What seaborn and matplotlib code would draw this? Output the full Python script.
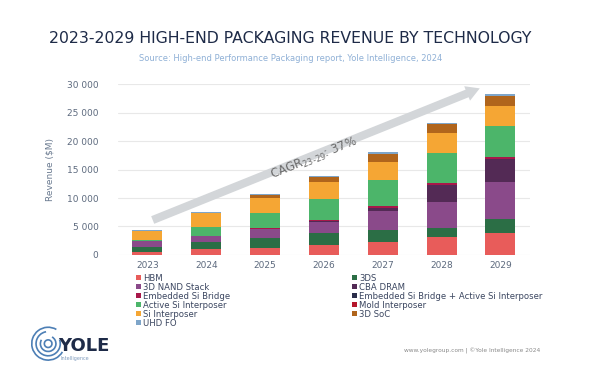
import numpy as np
import pandas as pd
import matplotlib
matplotlib.use("Agg")
import matplotlib.pyplot as plt
import seaborn as sns
from matplotlib.patches import Patch, Arc
from matplotlib.ticker import FuncFormatter

years = ["2023", "2024", "2025", "2026", "2027", "2028", "2029"]

hbm = [500, 1000, 1280, 1750, 2330, 3100, 3800]
tds = [950, 1200, 1760, 2050, 2060, 1690, 2460]
nand = [950, 1150, 1500, 2040, 3330, 4560, 6600]
cba_dram = [0, 0, 50, 100, 500, 2930, 3980]
emb_bridge = [100, 50, 100, 200, 350, 300, 410]
emb_asi = [0, 0, 0, 0, 0, 0, 0]
active_si = [50, 1500, 2600, 3630, 4560, 5370, 5430]
mold = [0, 0, 0, 0, 0, 0, 0]
si_interposer = [1600, 2400, 2800, 3090, 3200, 3400, 3510]
soc_3d = [50, 100, 400, 770, 1470, 1630, 1760]
uhd_fo = [100, 100, 200, 230, 350, 220, 300]

series_names = ["HBM", "3DS", "3D NAND Stack", "CBA DRAM", "Embedded Si Bridge",
                "Embedded Si Bridge + Active Si Interposer", "Active Si Interposer",
                "Mold Interposer", "Si Interposer", "3D SoC", "UHD FO"]
series_vals = [hbm, tds, nand, cba_dram, emb_bridge, emb_asi, active_si, mold,
               si_interposer, soc_3d, uhd_fo]
colors = ["#e85c5a", "#2b6e45", "#8a4a8a", "#532a55", "#a8184a", "#2b2d4a",
          "#4cb56a", "#b5162b", "#f5a634", "#b0651c", "#7ea5c9"]

cagr_text = "CAGR$_{23\\text{-}29}$: 37%"

sns.set_theme(style="white")
plt.rcParams["font.family"] = ["DejaVu Sans"]

fig = plt.figure(figsize=(6.02, 3.84), dpi=100)
ax = fig.add_axes([0.196, 0.336, 0.684, 0.445])

bottom = np.zeros(len(years))
for name, vals, c in zip(series_names, series_vals, colors):
    df = pd.DataFrame({"year": years, "value": vals})
    sns.barplot(data=df, x="year", y="value", color=c, width=0.51,
                bottom=bottom, ax=ax, saturation=1, linewidth=0, errorbar=None)
    bottom = bottom + np.array(vals)

ax.set_xlim(-0.5, 6.5)
ax.set_ylim(0, 30000)
ax.set_yticks(range(0, 30001, 5000))
ax.yaxis.set_major_formatter(FuncFormatter(lambda v, p: f"{int(v):,}".replace(",", " ")))
ax.grid(axis="y", color="#e8e8e8", linewidth=0.8)
ax.set_axisbelow(True)
for s in ax.spines.values():
    s.set_visible(False)
ax.tick_params(axis="both", length=0, labelsize=6.5, colors="#5d6a7e", pad=4)
ax.tick_params(axis="y", pad=14)
ax.set_xlabel("")
ax.set_ylabel("Revenue ($M)", fontsize=6.5, color="#6a7a90", labelpad=9)

# CAGR arrow
ax.annotate("", xy=(5.65, 29250), xytext=(0.09, 6140),
            arrowprops=dict(arrowstyle="simple,head_width=0.8,head_length=0.7,tail_width=0.42",
                            mutation_scale=14, color="#d3d6d9", lw=0, shrinkA=0, shrinkB=0),
            annotation_clip=False, zorder=1)
ax.text(2.84, 17000, cagr_text, rotation=22, ha="center", va="center",
        fontsize=8.5, color="#6b6b6b", rotation_mode="anchor", zorder=3)

# Titles
fig.text(0.482, 0.9, "2023-2029 HIGH-END PACKAGING REVENUE BY TECHNOLOGY",
         ha="center", va="center", fontsize=11.3, color="#1e2b48")
fig.text(0.482, 0.848, "Source: High-end Performance Packaging report, Yole Intelligence, 2024",
         ha="center", va="center", fontsize=6, color="#8fb0d6")

# Legend (row-major order in two columns)
handles = [Patch(facecolor=c, edgecolor="none") for c in colors]
col1 = [0, 2, 4, 6, 8, 10]
col2 = [1, 3, 5, 7, 9]
leg_kw = dict(frameon=False, fontsize=6.1, handlelength=0.6, handleheight=0.6,
              handletextpad=0.25, labelspacing=0.0, borderaxespad=0, borderpad=0,
              labelcolor="#3b4660")
leg1 = fig.legend([handles[i] for i in col1], [series_names[i] for i in col1],
                  loc="upper left", bbox_to_anchor=(0.226, 0.287), **leg_kw)
leg2 = fig.legend([handles[i] for i in col2], [series_names[i] for i in col2],
                  loc="upper left", bbox_to_anchor=(0.585, 0.287), **leg_kw)

# Logo
lax = fig.add_axes([0.04, 0.06, 0.08, 0.09])
lax.set_xlim(-1, 1); lax.set_ylim(-1, 1); lax.set_aspect("equal"); lax.axis("off")
for r, a1, a2 in [(0.95, 60, 330), (0.7, 100, 20), (0.45, 150, 60), (0.22, 0, 360)]:
    lax.add_patch(Arc((0, 0), 2 * r, 2 * r, theta1=a1, theta2=a2, color="#4d7fb5", lw=1.2))
fig.text(0.097, 0.098, "YOLE", fontsize=13, fontweight="bold", color="#1e2b48",
         ha="left", va="center")
fig.text(0.1, 0.066, "Intelligence", fontsize=3.5, color="#7f9bbd", ha="left", va="center")
fig.text(0.897, 0.086, "www.yolegroup.com | \u00a9Yole Intelligence 2024", fontsize=4.2,
         color="#8a8a8a", ha="right", va="center")

fig.savefig("out.png", dpi=100)
